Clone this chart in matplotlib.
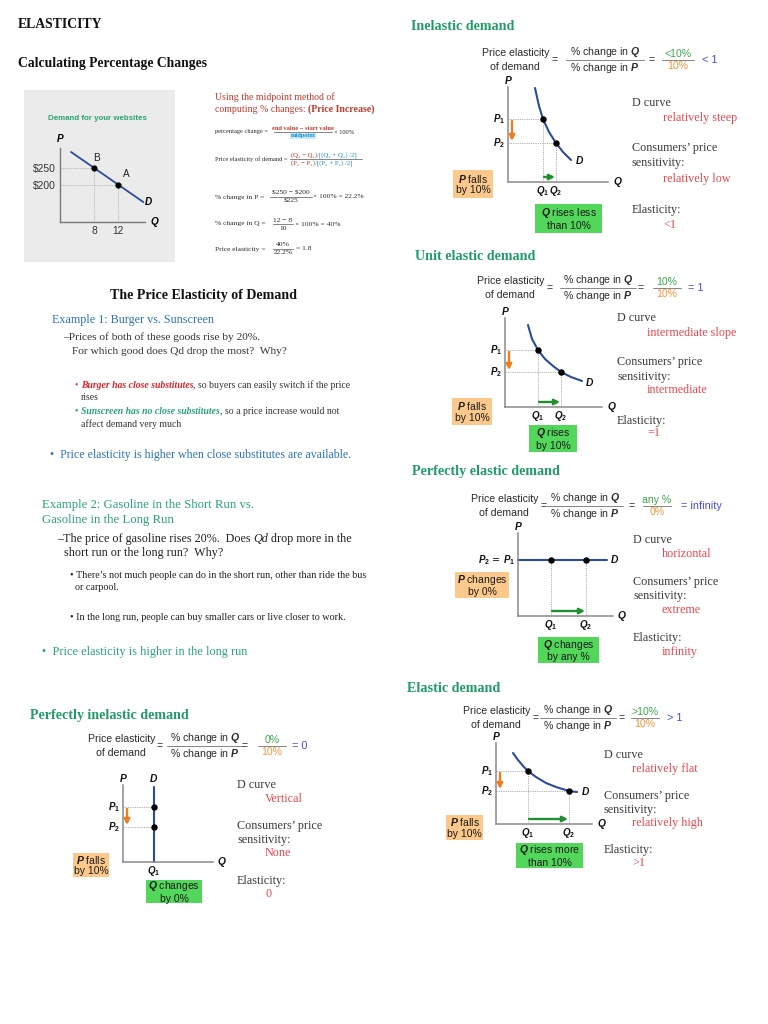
import matplotlib
matplotlib.use('Agg')
import matplotlib.pyplot as plt
from matplotlib.patches import Rectangle

plt.rcParams['mathtext.fontset'] = 'custom'
plt.rcParams['mathtext.rm'] = 'Liberation Sans'
plt.rcParams['mathtext.it'] = 'Liberation Sans:italic'
plt.rcParams['mathtext.bf'] = 'Liberation Sans:bold'
plt.rcParams['mathtext.bfit'] = 'Liberation Sans:italic:bold'

# ---- data ----
# "Demand for your websites"
site_q = [8, 12]
site_p = [250, 200]
site_names = ['B', 'A']
site_line_q = [4.2, 16.2]
site_line_p = [297, 150]

# demand diagrams (units, origin at the axis corner)
inel_curve_q = [27, 31, 35, 41, 48, 55, 63]
inel_curve_p = [94, 76, 63, 50, 39, 30, 22]
inel_pts_q = [35, 48]
inel_pts_p = [63, 39]
inel_ratio = ['<10%', '10%', '< 1']
inel_desc = ['relatively steep', 'relatively low', '<1']

unit_curve_q = [23, 27, 33, 40, 48, 56, 66, 77]
unit_curve_p = [82, 68, 57, 48, 41, 35, 30, 26]
unit_pts_q = [33, 56]
unit_pts_p = [57, 35]
unit_ratio = ['10%', '10%', '= 1']
unit_desc = ['intermediate slope', 'intermediate', '=1']

pel_curve_q = [0, 89]
pel_curve_p = [56, 56]
pel_pts_q = [33, 68]
pel_pts_p = [56, 56]
pel_ratio = ['any %', '0%', '= infinity']
pel_desc = ['horizontal', 'extreme', 'infinity']

el_curve_q = [17, 22, 28, 32, 40, 50, 60, 73, 81]
el_curve_p = [71, 64, 57, 53, 47, 41, 37, 33, 32]
el_pts_q = [32, 73]
el_pts_p = [53, 33]
el_ratio = ['>10%', '10%', '> 1']
el_desc = ['relatively flat', 'relatively high', '>1']

pin_curve_q = [31, 31]
pin_curve_p = [0, 75]
pin_pts_q = [31, 31]
pin_pts_p = [55, 35]
pin_ratio = ['0%', '10%', '= 0']
pin_desc = ['Vertical', 'None', '0']

# ---- style ----
W, H = 768, 1024
SERIF = ['Liberation Serif', 'DejaVu Serif']
SANS = ['Liberation Sans', 'DejaVu Sans']
DARK = '#2a2a2a'
TITLE_G = '#1f9a68'
BLUE_C = '#2b4c9b'
ORANGE_A = '#f07c1c'
GREEN_A = '#1f8f2f'
ORANGE_BOX = '#fcc98c'
GREEN_BOX = '#52d75b'
RED = '#e9474d'
PURPLE = '#4b4bdc'
FGREEN = '#3ba848'
FORANGE = '#f39439'
AXIS = '#8a8a8a'
GUIDE = '#a8a8a8'
EX_BLUE = '#2e72b8'
EX_GREEN = '#2aa37a'
MID_RED = '#c0392b'

fig = plt.figure(figsize=(7.68, 10.24), dpi=100)
bg = fig.add_axes([0, 0, 1, 1])
bg.set_xlim(0, W)
bg.set_ylim(H, 0)
bg.axis('off')


def txt(x, y, s, size=7.5, color=DARK, family=SERIF, ha='left', va='center', **kw):
    return bg.text(x, y, s, fontsize=size, color=color, family=family, ha=ha, va=va, **kw)


def chain(x, y, parts, size, family=SERIF, va='center'):
    # pieces of differently styled text laid one after another
    s, st = parts[0]
    t = txt(x, y, s, size, family=family, va=va, **st)
    for s, st in parts[1:]:
        t = bg.annotate(s, xy=(1, 0), xycoords=t, ha='left', va='bottom',
                        fontsize=size, family=family, **st)
    return t


def frac(xc, y, num, den, w, size, family, cnum=DARK, cden=DARK, gap=1.5, numkw=None, denkw=None):
    bg.plot([xc - w / 2, xc + w / 2], [y, y], color='#555', lw=0.5)
    txt(xc, y - gap, num, size, cnum, family, ha='center', va='bottom', **(numkw or {}))
    txt(xc, y + gap, den, size, cden, family, ha='center', va='top', **(denkw or {}))


def formula(xr, y, eq1, fc, fw, eq2, sc, sw, res_x, ratio, size=7.6):
    txt(xr, y, 'Price elasticity\nof demand', size, DARK, SANS, ha='right',
        multialignment='center', linespacing=1.4)
    txt(eq1, y, '=', size, DARK, SANS, ha='center')
    frac(fc, y, '% change in $\\mathbfit{Q}$', '% change in $\\mathbfit{P}$', fw, size, SANS, gap=1.3)
    txt(eq2, y, '=', size, DARK, SANS, ha='center')
    frac(sc, y, ratio[0], ratio[1], sw, size, SANS, cnum=FGREEN, cden=FORANGE, gap=1.3)
    txt(res_x, y, ratio[2], size + 0.3, PURPLE, SANS)


def label_box(x0, y0, x1, y1, s, color, size=7.5):
    bg.add_patch(Rectangle((x0, y0), x1 - x0, y1 - y0, color=color, lw=0))
    txt((x0 + x1) / 2, (y0 + y1) / 2, s, size, '#1a1a1a', SANS, ha='center',
        multialignment='center', linespacing=1.05)


def describe(x, vx, ys, values, size=8.7):
    labels = ['D curve', 'Consumers\u2019 price', 'sensitivity:', 'Elasticity:']
    for s, y in zip(labels, [ys[0], ys[2], ys[3], ys[5]]):
        txt(x, y, s, size, '#3a3a3a')
    for s, y in zip(values, [ys[1], ys[4], ys[6]]):
        txt(vx, y, s, size, RED)


def demand_panel(ox, oy, aw, ah, cq, cp, pq, pp, p_names, q_names, d_xy, d_ha='left'):
    ax = fig.add_axes([ox / W, 1 - oy / H, aw / W, ah / H])
    ax.set_xlim(0, aw)
    ax.set_ylim(0, ah)
    ax.patch.set_visible(False)
    ax.set_xticks([])
    ax.set_yticks([])
    ax.spines[['top', 'right']].set_visible(False)
    ax.spines[['left', 'bottom']].set_color(AXIS)
    ax.spines[['left', 'bottom']].set_linewidth(1.1)
    for q, p in zip(pq, pp):
        ax.plot([0, q], [p, p], color=GUIDE, lw=0.6, ls=(0, (1.5, 1.2)))
        ax.plot([q, q], [0, p], color=GUIDE, lw=0.6, ls=(0, (1.5, 1.2)))
    ax.plot(cq, cp, color=BLUE_C, lw=1.5, solid_capstyle='round', clip_on=False)
    ax.scatter(pq, pp, s=13, color='black', zorder=5, clip_on=False)
    if pp[0] != pp[1]:
        ax.annotate('', xy=(4, pp[1] + 2), xytext=(4, pp[0] - 2),
                    arrowprops=dict(arrowstyle='-|>', color=ORANGE_A, lw=1.7,
                                    mutation_scale=8, shrinkA=0, shrinkB=0))
    if pq[0] != pq[1]:
        ax.annotate('', xy=(pq[1] - 1, 5), xytext=(pq[0] + 1, 5),
                    arrowprops=dict(arrowstyle='-|>', color=GREEN_A, lw=1.7,
                                    mutation_scale=8, shrinkA=0, shrinkB=0))
    lab = dict(fontsize=7.4, family=SANS, fontweight='bold', fontstyle='italic',
               color='#111', clip_on=False)
    ax.text(0, ah + 6, 'P', ha='center', va='center', **lab)
    ax.text(aw + 9, 0, 'Q', ha='center', va='center', **lab)
    ax.text(d_xy[0], d_xy[1], 'D', ha=d_ha, va='center', **lab)
    for name, p in zip(p_names, pp):
        if name:
            ax.text(-3, p, name, ha='right', va='center', fontsize=7, color='#111', clip_on=False)
    for name, q in zip(q_names, pq):
        if name:
            ax.text(q, -9, name, ha='center', va='center', fontsize=7, color='#111', clip_on=False)
    return ax


P1 = '$\\mathbfit{P}_\\mathbf{1}$'
P2 = '$\\mathbfit{P}_\\mathbf{2}$'
Q1 = '$\\mathbfit{Q}_\\mathbf{1}$'
Q2 = '$\\mathbfit{Q}_\\mathbf{2}$'

# ================= left column =================
txt(18, 25, 'ELASTICITY', 9.9, '#111', weight='bold')
txt(18, 63, 'Calculating Percentage Changes', 9.8, '#111', weight='bold')

# website demand chart
bg.add_patch(Rectangle((24, 90), 151, 172, color='#ebebeb', lw=0))
txt(97, 118, 'Demand for your websites', 5.7, '#27a66a', SANS, ha='center', weight='bold')
ax0 = fig.add_axes([60 / W, 1 - 222 / H, 85 / W, 74 / H])
ax0.set_xlim(2.33, 16.5)
ax0.set_ylim(91, 309)
ax0.patch.set_visible(False)
ax0.spines[['top', 'right']].set_visible(False)
ax0.spines[['left', 'bottom']].set_color('#7a7a7a')
ax0.spines[['left', 'bottom']].set_linewidth(1.0)
for q, p in zip(site_q, site_p):
    ax0.plot([2.33, q], [p, p], color='#aaa', lw=0.5, ls=(0, (2, 1.5)))
    ax0.plot([q, q], [91, p], color='#aaa', lw=0.5, ls=(0, (2, 1.5)))
ax0.plot(site_line_q, site_line_p, color=BLUE_C, lw=1.3)
ax0.scatter(site_q, site_p, s=12, color='black', zorder=5)
for name, q, p, off in zip(site_names, site_q, site_p, [(2, 10), (8, 11)]):
    ax0.annotate(name, xy=(q, p), xytext=off, textcoords='offset pixels',
                 ha='center', va='center', fontsize=7.2, family=SANS, color='#222')
ax0.set_xticks(site_q, [str(q) for q in site_q])
ax0.set_yticks(site_p, ['\\$%d' % p for p in site_p])
ax0.tick_params(length=0, labelsize=7.4, colors='#333', pad=3)
for lbl in ax0.get_xticklabels() + ax0.get_yticklabels():
    lbl.set_family(SANS)
ax0.text(0, 1.05, 'P', transform=ax0.transAxes, ha='center', va='bottom', fontsize=7.2,
         family=SANS, weight='bold', style='italic')
ax0.text(1.06, 0, 'Q', transform=ax0.transAxes, ha='left', va='center', fontsize=7.2,
         family=SANS, weight='bold', style='italic')
ax0.text(16.4, 150, 'D', ha='left', va='center', fontsize=7.2, family=SANS,
         weight='bold', style='italic')

# midpoint method text
dp = (site_p[0] - site_p[1]) / ((site_p[0] + site_p[1]) / 2) * 100
dq = (site_q[1] - site_q[0]) / ((site_q[1] + site_q[0]) / 2) * 100
txt(215, 97, 'Using the midpoint method of', 7.1, MID_RED)
chain(215, 109, [('computing % changes: ', {'color': MID_RED}),
                 ('(Price Increase)', {'color': MID_RED, 'weight': 'bold'})], 7.1)
ts = 4.6
txt(215, 132, 'percentage change =', ts)
frac(303, 132, 'end value \u2212 start value', 'midpoint', 58, ts, SERIF,
     cnum=MID_RED, cden='#1a8fd0', numkw={'weight': 'bold'},
     denkw={'weight': 'bold', 'bbox': dict(facecolor='#c4ecf7', edgecolor='none', pad=0.4)})
txt(334, 132, '\u00d7 100%', ts)
txt(215, 159, 'Price elasticity of demand =', ts)
bg.plot([290, 362], [159, 159], color='#555', lw=0.5)
chain(291, 157.5, [('(Q\u2082 \u2212 Q\u2081)', {'color': MID_RED}),
                   ('/[(Q\u2082 + Q\u2081) /2]', {'color': '#1a8fd0'})], 4.9, va='bottom')
chain(291, 160.5, [('(P\u2082 \u2212 P\u2081)', {'color': MID_RED}),
                   ('/[(P\u2082 + P\u2081) /2]', {'color': '#1a8fd0'})], 4.9, va='top')
tb = 5.4
txt(215, 197, '% change in P =', tb)
frac(291, 197, '\\$%d \u2212 \\$%d' % (site_p[0], site_p[1]),
     '\\$%d' % ((site_p[0] + site_p[1]) / 2), 42, tb, SERIF)
txt(313, 197, '\u00d7 100%% = %.1f%%' % dp, tb)
txt(215, 224, '% change in Q =', tb)
frac(283, 224, '%d \u2212 %d' % (site_q[1], site_q[0]), '%d' % ((site_q[1] + site_q[0]) / 2),
     20, tb, SERIF)
txt(295, 224, '\u00d7 100%% = %d%%' % dq, tb)
txt(215, 249, 'Price elasticity =', tb)
frac(283, 249, '%d%%' % dq, '%.1f%%' % dp, 20, tb, SERIF)
txt(296, 249, '= %.1f' % (dq / dp), tb)

# Example 1
txt(204, 295, 'The Price Elasticity of Demand', 10.1, '#111', ha='center', weight='bold')
txt(52, 320, 'Example 1: Burger vs. Sunscreen', 8.7, EX_BLUE)
txt(63, 337, '\u2013Prices of both of these goods rise by 20%.', 8.2, '#333')
txt(72, 351, 'For which good does Qd drop the most?  Why?', 8.2, '#333')
chain(75, 385, [('\u2022 ', {'color': RED}),
                ('Burger has close substitutes', {'color': '#d8262c', 'weight': 'bold', 'style': 'italic'}),
                (', so buyers can easily switch if the price', {'color': '#333'})], 7.0)
txt(81, 397, 'rises', 7.0, '#333')
chain(75, 412, [('\u2022 ', {'color': EX_GREEN}),
                ('Sunscreen has no close substitutes', {'color': EX_GREEN, 'weight': 'bold', 'style': 'italic'}),
                (', so a price increase would not', {'color': '#333'})], 7.0)
txt(81, 424, 'affect demand very much', 7.0, '#333')
txt(50, 455, '\u2022  Price elasticity is higher when close substitutes are available.', 8.6, EX_BLUE)

# Example 2
txt(42, 505, 'Example 2: Gasoline in the Short Run vs.', 9.2, EX_GREEN)
txt(42, 520, 'Gasoline in the Long Run', 9.2, EX_GREEN)
chain(57, 539, [('\u2013The price of gasoline rises 20%.  Does ', {'color': '#222'}),
                ('Qd', {'color': '#222', 'style': 'italic'}),
                (' drop more in the', {'color': '#222'})], 8.7)
txt(64, 553, 'short run or the long run?  Why?', 8.7, '#222')
txt(70, 576, '\u2022 There\u2019s not much people can do in the short run, other than ride the bus', 7.3, '#222')
txt(75, 588, 'or carpool.', 7.3, '#222')
txt(70, 618, '\u2022 In the long run, people can buy smaller cars or live closer to work.', 7.3, '#222')
txt(42, 652, '\u2022  Price elasticity is higher in the long run', 8.8, EX_GREEN)

# Perfectly inelastic demand
txt(30, 715, 'Perfectly inelastic demand', 10.1, TITLE_G, weight='bold')
formula(155, 746, 160, 205, 76, 245, 272, 28, 292, pin_ratio)
demand_panel(123, 862, 90, 77, pin_curve_q, pin_curve_p, pin_pts_q, pin_pts_p,
             [P1, P2], [Q1, None], (31, 83), 'center')
label_box(73, 853, 109, 877, '$\\mathbfit{P}$ falls\nby 10%', ORANGE_BOX)
label_box(146, 880, 202, 903, '$\\mathbfit{Q}$ changes\nby 0%', GREEN_BOX)
describe(237, 265, [785, 799, 826, 840, 853, 881, 894], pin_desc)

# ================= right column =================
# Inelastic demand
txt(411, 27, 'Inelastic demand', 10.2, TITLE_G, weight='bold')
formula(549, 60, 555, 605, 78, 652, 678, 32, 702, inel_ratio)
demand_panel(508, 182, 100, 95, inel_curve_q, inel_curve_p, inel_pts_q, inel_pts_p,
             [P1, P2], [Q1, Q2], (68, 21))
label_box(453, 170, 493, 198, '$\\mathbfit{P}$ falls\nby 10%', ORANGE_BOX)
label_box(535, 204, 602, 233, '$\\mathbfit{Q}$ rises less\nthan 10%', GREEN_BOX)
describe(632, 663, [103, 118, 148, 163, 179, 210, 225], inel_desc)

# Unit elastic demand
txt(415, 256, 'Unit elastic demand', 10.2, TITLE_G, weight='bold')
formula(544, 288, 550, 598, 76, 641, 667, 28, 688, unit_ratio)
demand_panel(505, 407, 97, 89, unit_curve_q, unit_curve_p, unit_pts_q, unit_pts_p,
             [P1, P2], [Q1, Q2], (81, 24))
label_box(452, 398, 492, 425, '$\\mathbfit{P}$ falls\nby 10%', ORANGE_BOX)
label_box(529, 425, 577, 452, '$\\mathbfit{Q}$ rises\nby 10%', GREEN_BOX)
describe(617, 647, [318, 333, 362, 377, 390, 421, 433], unit_desc)

# Perfectly elastic demand
txt(412, 472, 'Perfectly elastic demand', 10.2, TITLE_G, weight='bold')
formula(538, 506, 544, 585, 76, 632, 657, 28, 681, pel_ratio)
demand_panel(518, 616, 95, 83, pel_curve_q, pel_curve_p, pel_pts_q, pel_pts_p,
             ['$\\mathbfit{P}_\\mathbf{2}$ = $\\mathbfit{P}_\\mathbf{1}$', None], [Q1, Q2], (93, 56))
label_box(455, 572, 509, 598, '$\\mathbfit{P}$ changes\nby 0%', ORANGE_BOX)
label_box(538, 637, 599, 663, '$\\mathbfit{Q}$ changes\nby any %', GREEN_BOX)
describe(633, 662, [540, 554, 582, 596, 610, 638, 652], pel_desc)

# Elastic demand
txt(407, 688, 'Elastic demand', 10.2, TITLE_G, weight='bold')
formula(530, 718, 536, 578, 76, 622, 645, 28, 667, el_ratio)
demand_panel(496, 824, 96, 81, el_curve_q, el_curve_p, el_pts_q, el_pts_p,
             [P1, P2], [Q1, Q2], (86, 32))
label_box(446, 815, 483, 840, '$\\mathbfit{P}$ falls\nby 10%', ORANGE_BOX)
label_box(516, 843, 583, 868, '$\\mathbfit{Q}$ rises more\nthan 10%', GREEN_BOX)
describe(604, 632, [755, 769, 796, 810, 823, 850, 863], el_desc)

fig.savefig('out.png', dpi=100)
